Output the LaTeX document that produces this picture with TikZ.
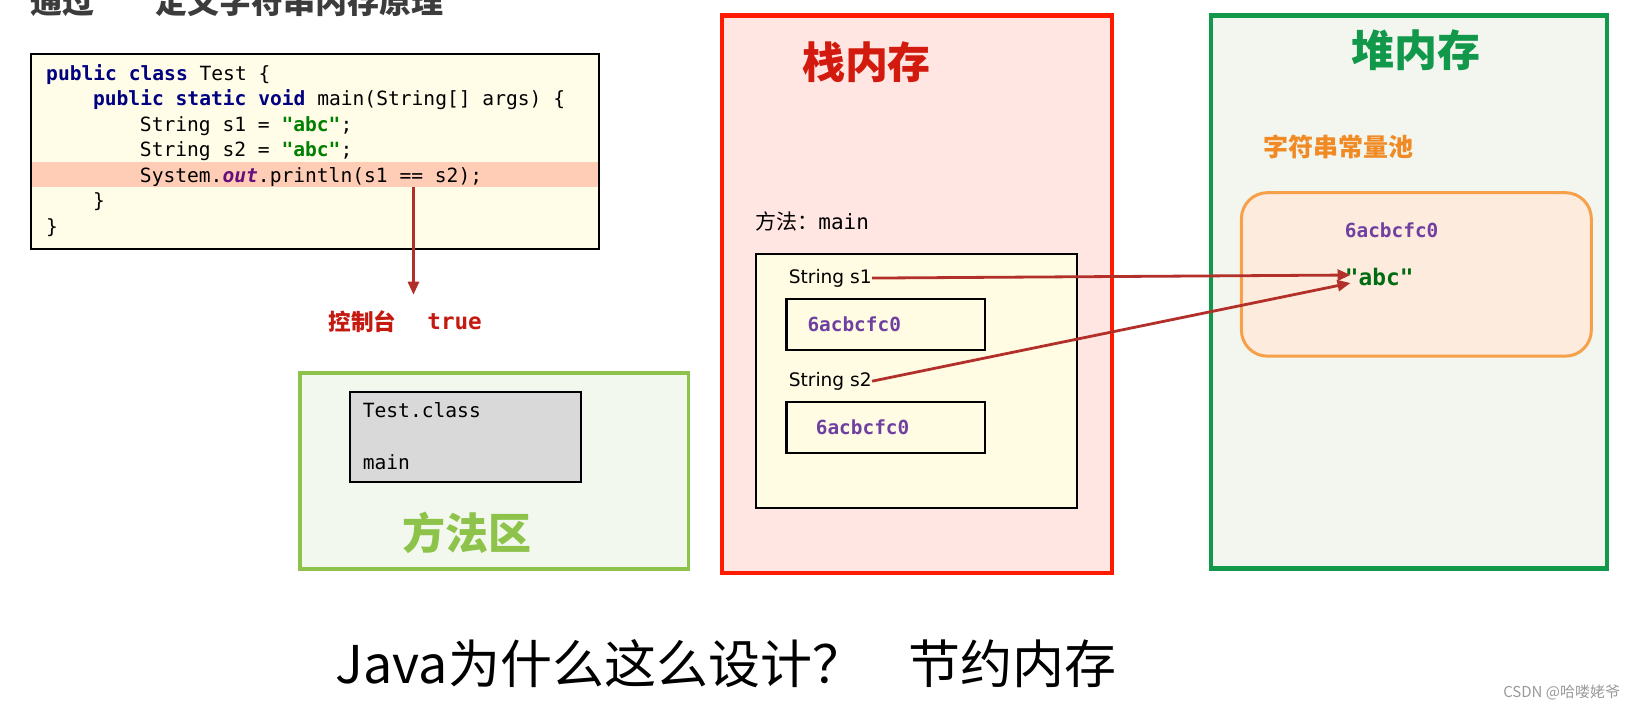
\documentclass[tikz,border=0pt]{standalone}
\usepackage{fontspec}
\setmainfont{DejaVu Sans}
\setmonofont{DejaVu Sans Mono}
\newfontfamily\cjk{Noto Sans CJK SC}
\usetikzlibrary{arrows.meta}
\definecolor{titlegray}{HTML}{3C3C3C}
\definecolor{codebg}{HTML}{FFFDE8}
\definecolor{hlrow}{HTML}{FFCDB6}
\definecolor{kw}{HTML}{000080}
\definecolor{strg}{HTML}{008000}
\definecolor{outc}{HTML}{660E7A}
\definecolor{arrred}{HTML}{B3302A}
\definecolor{conred}{HTML}{C41A10}
\definecolor{mabg}{HTML}{F3F8EE}
\definecolor{maline}{HTML}{8DC34A}
\definecolor{graybox}{HTML}{D9D9D9}
\definecolor{stackbg}{HTML}{FFE6E3}
\definecolor{stackline}{HTML}{FF1A00}
\definecolor{stacktitle}{HTML}{D31A0E}
\definecolor{innerbg}{HTML}{FFFCE3}
\definecolor{heapbg}{HTML}{F3F5EF}
\definecolor{heapline}{HTML}{12984A}
\definecolor{pooltitle}{HTML}{F08A24}
\definecolor{poolbg}{HTML}{FDEBDD}
\definecolor{poolline}{HTML}{F6A04A}
\definecolor{addr}{HTML}{7040A0}
\definecolor{abcgreen}{HTML}{006B10}
\definecolor{wm}{HTML}{9A9A9A}
\tikzset{
  code/.style={font=\ttfamily\fontsize{9.8}{11}\selectfont, anchor=base west, inner sep=0pt},
  arr/.style={draw=arrred, line width=1.4pt, -{Triangle[length=6.5pt,width=5.5pt]}},
  bigtitle/.style={font=\cjk\bfseries\fontsize{21.5}{22}\selectfont, inner sep=0pt},
  addrtxt/.style={font=\ttfamily\bfseries\fontsize{9.7}{11}\selectfont, text=addr, anchor=west, inner sep=0pt},
  sanslbl/.style={font=\fontsize{9.3}{10}\selectfont, anchor=west, inner sep=0pt},
}
\begin{document}
\begin{tikzpicture}[x=0.52075pt,y=-0.52075pt]
\useasboundingbox (0,0) rectangle (1568,683);
\fill[white] (0,0) rectangle (1568,683);

% title (cut off at top, as in the reference)
\node[font=\cjk\bfseries\fontsize{16}{16}\selectfont, text=titlegray, anchor=center, inner sep=0pt] (t1) at (60,1) {通过};
\node[font=\cjk\bfseries\fontsize{16}{16}\selectfont, text=titlegray, anchor=center, inner sep=0pt] (t2) at (288,1) {定义字符串内存原理};

% code box
\fill[codebg] (30,52) rectangle (575,239);
\fill[hlrow] (31,156) rectangle (574,180);
\draw[line width=1pt] (30,52) rectangle (575,239);
\node[code] (c1) at (44,77) {\textcolor{kw}{\bfseries public class} Test \{};
\node[code] (c2) at (89,101.5) {\textcolor{kw}{\bfseries public static void} main(String[] args) \{};
\node[code] (c3) at (134,126) {String s1 = \textcolor{strg}{\bfseries"abc"};};
\node[code] (c4) at (134,150.5) {String s2 = \textcolor{strg}{\bfseries"abc"};};
\node[code] (c5) at (134,175) {System.\textcolor{outc}{\bfseries\itshape out}.println(s1 == s2);};
\node[code] (c6) at (89,199.5) {\}};
\node[code] (c7) at (44,224) {\}};

% arrow to console
\coordinate (p) at (397,180);
\coordinate (q) at (397,283);
\draw[arr] (p) -- (q);
\node[font=\cjk\bfseries\fontsize{11.3}{12}\selectfont, text=conred, anchor=west, inner sep=0pt] (con) at (315,309) {控制台};
\node[font=\ttfamily\bfseries\fontsize{11.3}{12}\selectfont, text=conred, anchor=west, inner sep=0pt] (tru) at (410,309) {true};

% method area
\draw[line width=1.9pt, draw=maline, fill=mabg] (288,358) rectangle (661,546);
\draw[line width=1pt, fill=graybox] (336,376) rectangle (558,463);
\node[code] (tc) at (348,401) {Test.class};
\node[code] (mm) at (348,451) {main};
\node[bigtitle, text=maline] (ma) at (448,512) {方法区};

% stack
\draw[line width=2.2pt, draw=stackline, fill=stackbg] (693,15) rectangle (1068,550);
\node[bigtitle, text=stacktitle] (st) at (832,60) {栈内存};
\node[anchor=west, inner sep=0pt] (fm) at (725,213) {\cjk\fontsize{10.5}{12}\selectfont 方法：\ttfamily\fontsize{10.5}{12}\selectfont main};
\draw[line width=1pt, fill=innerbg] (726,244) rectangle (1034,488);
\node[sanslbl] (s1) at (757,267) {String s1};
\draw[line width=1.2pt, fill=innerbg] (755,287) rectangle (946,336);
\node[addrtxt] (a1) at (775,311) {6acbcfc0};
\node[sanslbl] (s2) at (757,366) {String s2};
\draw[line width=1.2pt, fill=innerbg] (755,386) rectangle (946,435);
\node[addrtxt] (a2) at (783,410) {6acbcfc0};

% heap
\draw[line width=2.2pt, draw=heapline, fill=heapbg] (1163,15) rectangle (1543,546);
\node[bigtitle, text=heapline] (hp) at (1360,48) {堆内存};
\node[font=\cjk\bfseries\fontsize{12.5}{13}\selectfont, text=pooltitle, anchor=west, inner sep=0pt] (pt) at (1213,141) {字符串常量池};
\draw[line width=1.5pt, draw=poolline, fill=poolbg, rounded corners=13pt] (1192,185) rectangle (1528,342);
\node[addrtxt] (a3) at (1291,221) {6acbcfc0};
\node[font=\ttfamily\bfseries\fontsize{11.4}{12}\selectfont, text=abcgreen, anchor=west, inner sep=0pt] (abc) at (1291,266) {"abc"};

% references
\draw[arr] (s1.east) -- ([xshift=3pt,yshift=1pt]abc.west);
\draw[arr] (s2.east) -- ([xshift=3pt,yshift=-3pt]abc.west);

% bottom caption
\node[font=\cjk\fontsize{26}{27}\selectfont, anchor=west, inner sep=0pt] (q1) at (322,637) {Java为什么这么设计？};
\node[font=\cjk\fontsize{26}{27}\selectfont, anchor=west, inner sep=0pt] (q2) at (872,637) {节约内存};

% watermark
\node[font=\cjk\fontsize{7.5}{8}\selectfont, text=wm, anchor=east, inner sep=0pt] (wmk) at (1556,665) {CSDN @哈喽姥爷};
\end{tikzpicture}
\end{document}
